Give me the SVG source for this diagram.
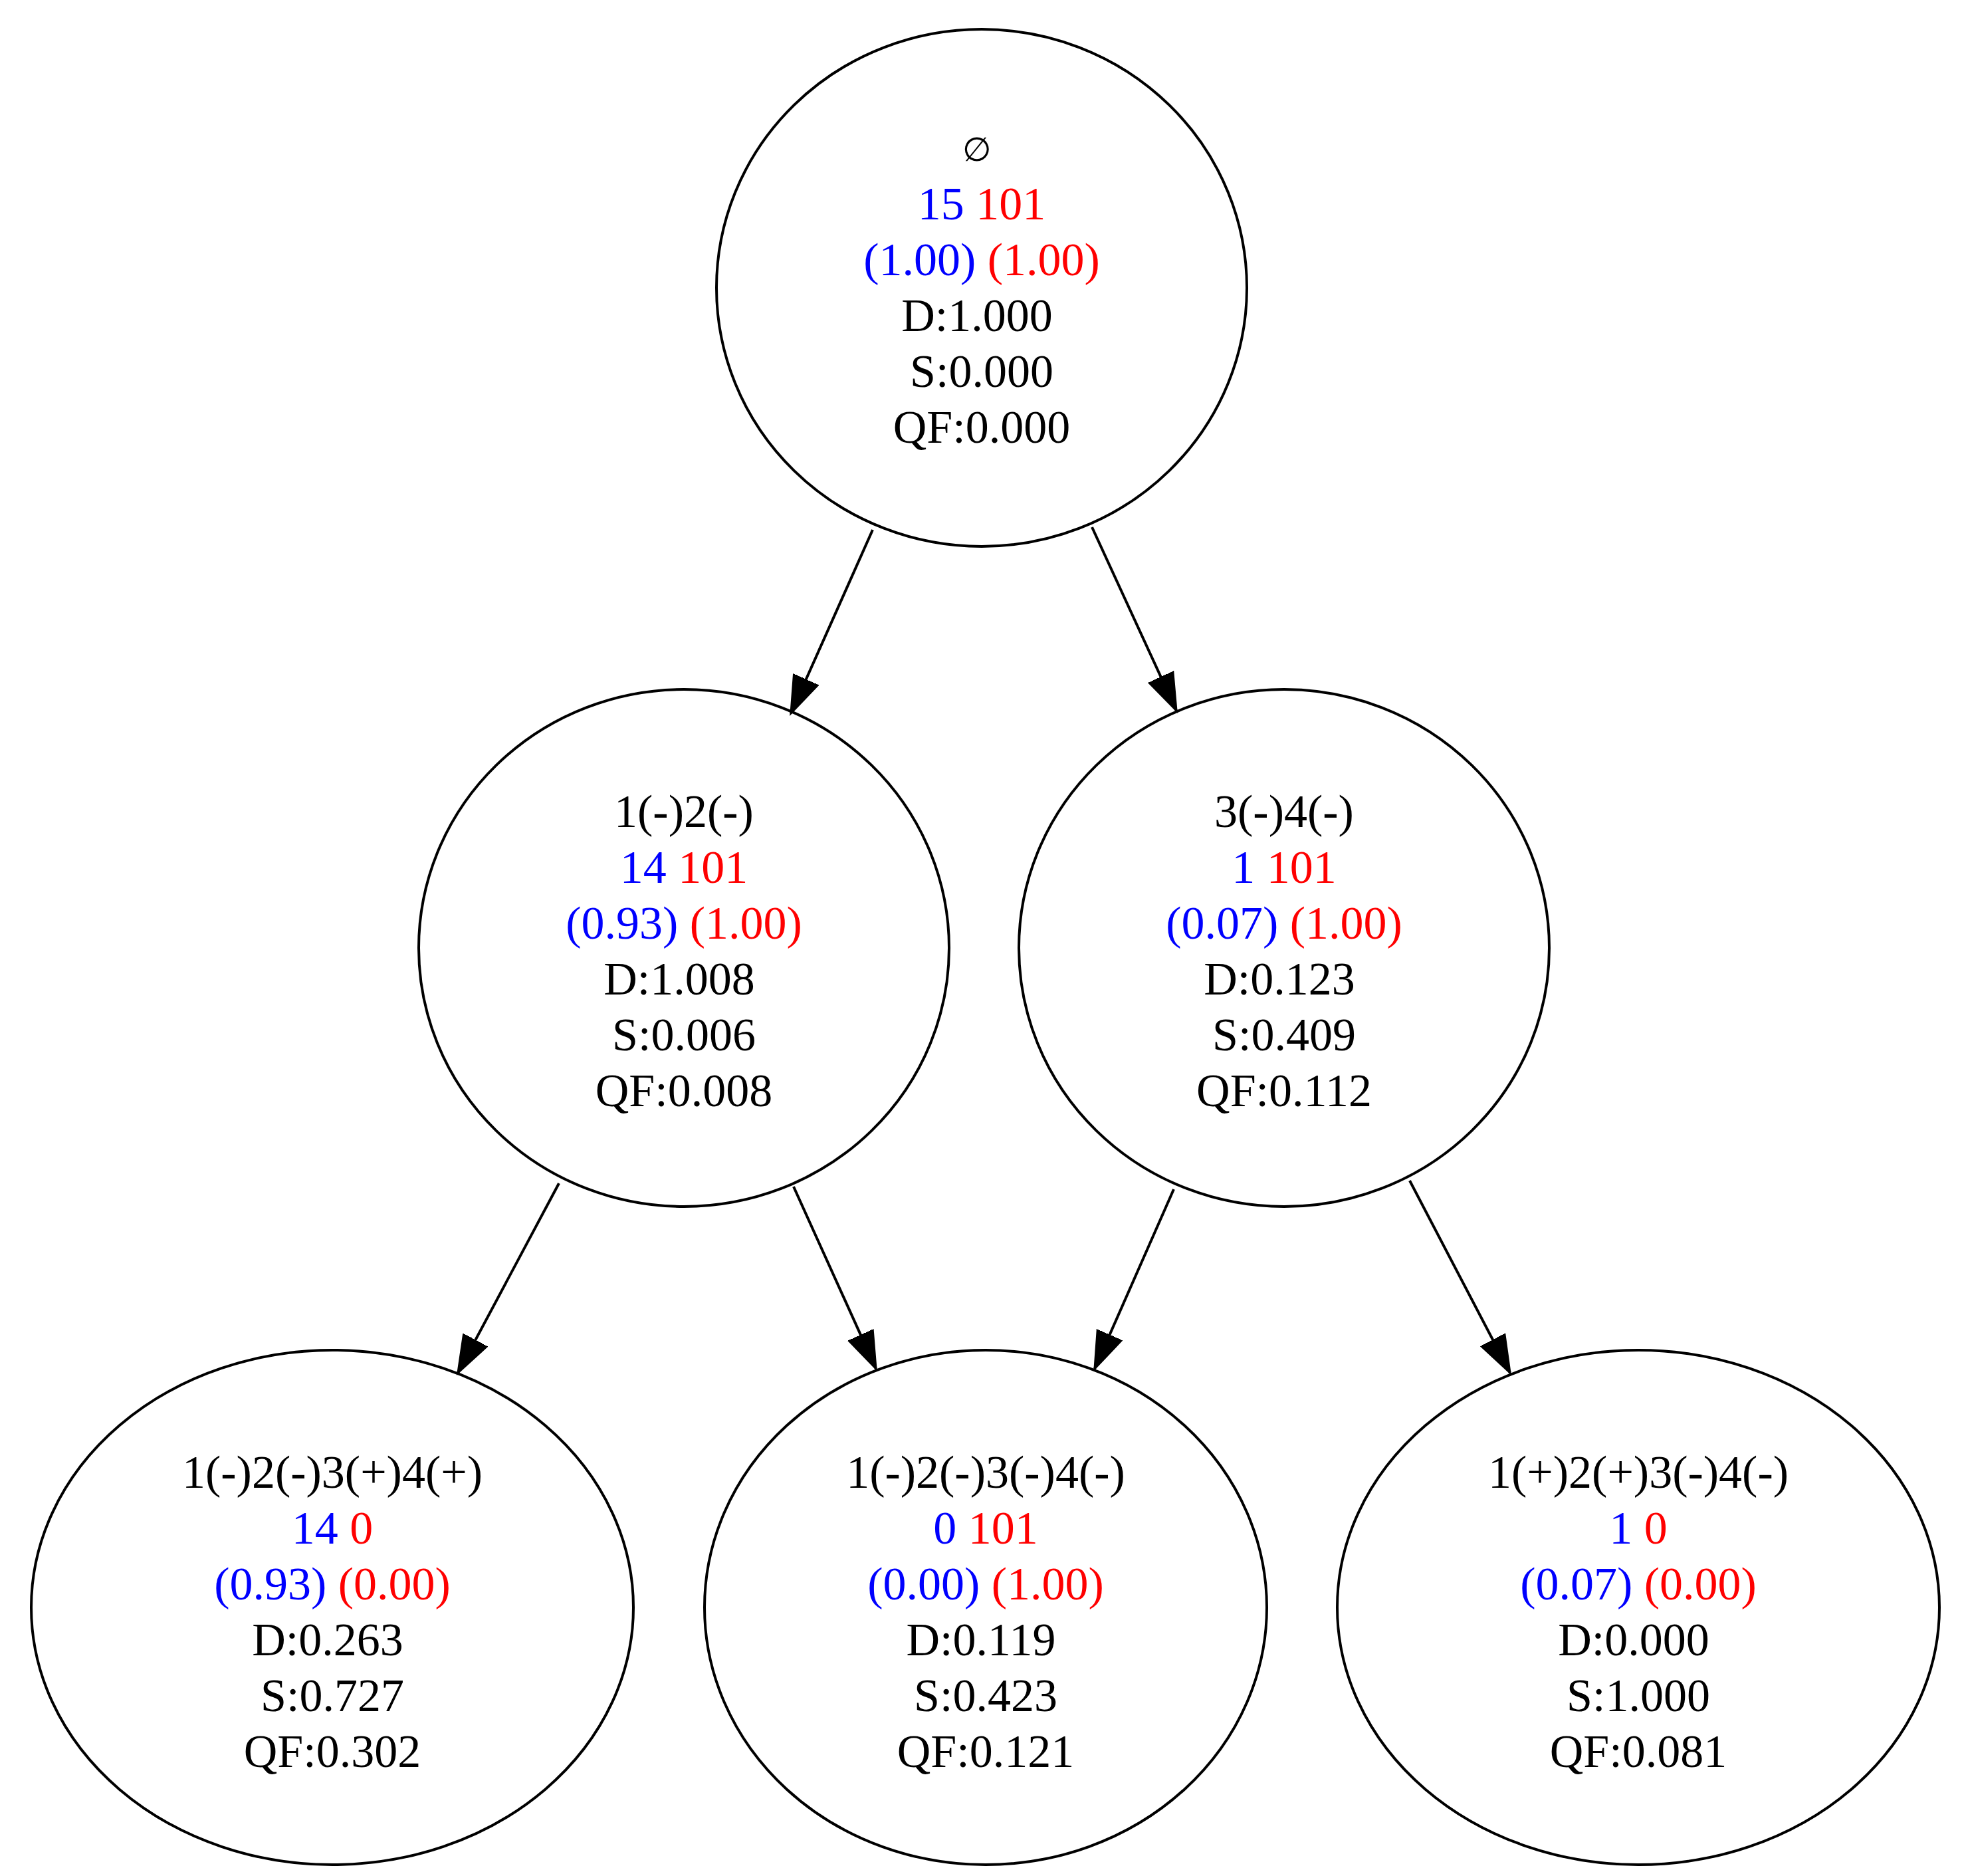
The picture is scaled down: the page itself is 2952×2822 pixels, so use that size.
<svg xmlns="http://www.w3.org/2000/svg" width="2952" height="2822" viewBox="0 0 2952 2822">
<style>
.n{fill:none;stroke:#000;stroke-width:4}
text{font-family:"Liberation Serif",serif;font-size:70px;text-anchor:middle;fill:#000}
.b{fill:#0000ff}.r{fill:#ff0000}
.e{stroke:#000;stroke-width:4;fill:none;marker-end:url(#a)}
</style>
<defs><marker id="a" markerUnits="userSpaceOnUse" markerWidth="60" markerHeight="50" refX="56" refY="20" orient="auto" viewBox="0 0 60 40"><path d="M0,0L56,20L0,40z" fill="#000" stroke="#000" stroke-width="3"/></marker></defs>
<rect width="2952" height="2822" fill="#fff"/>
<g id="edges">
<line class="e" x1="1313" y1="797" x2="1190" y2="1073"/>
<line class="e" x1="1643" y1="793" x2="1770" y2="1069"/>
<line class="e" x1="841" y1="1780" x2="689" y2="2065"/>
<line class="e" x1="1194" y1="1785" x2="1318" y2="2059"/>
<line class="e" x1="1766" y1="1789" x2="1647" y2="2059"/>
<line class="e" x1="2121" y1="1776" x2="2272" y2="2065"/>
</g>
<g id="root"><ellipse class="n" cx="1477" cy="433" rx="399" ry="389"/>
<text x="1470" y="242" style="font-size:50px">∅</text>
<text x="1477" y="330"><tspan class="b">15</tspan> <tspan class="r">101</tspan></text>
<text x="1477" y="414"><tspan class="b">(1.00)</tspan> <tspan class="r">(1.00)</tspan></text>
<text x="1470" y="498">D:1.000</text><text x="1477" y="582">S:0.000</text><text x="1477" y="666">QF:0.000</text></g>
<g id="n12"><ellipse class="n" cx="1029" cy="1426" rx="399" ry="389"/>
<text x="1029" y="1244">1(-)2(-)</text>
<text x="1029" y="1328"><tspan class="b">14</tspan> <tspan class="r">101</tspan></text>
<text x="1029" y="1412"><tspan class="b">(0.93)</tspan> <tspan class="r">(1.00)</tspan></text>
<text x="1022" y="1496">D:1.008</text><text x="1029" y="1580">S:0.006</text><text x="1029" y="1664">QF:0.008</text></g>
<g id="n34"><ellipse class="n" cx="1932" cy="1426" rx="399" ry="389"/>
<text x="1932" y="1244">3(-)4(-)</text>
<text x="1932" y="1328"><tspan class="b">1</tspan> <tspan class="r">101</tspan></text>
<text x="1932" y="1412"><tspan class="b">(0.07)</tspan> <tspan class="r">(1.00)</tspan></text>
<text x="1925" y="1496">D:0.123</text><text x="1932" y="1580">S:0.409</text><text x="1932" y="1664">QF:0.112</text></g>
<g id="bl"><ellipse class="n" cx="500" cy="2418" rx="453" ry="387"/>
<text x="500" y="2238">1(-)2(-)3(+)4(+)</text>
<text x="500" y="2322"><tspan class="b">14</tspan> <tspan class="r">0</tspan></text>
<text x="500" y="2406"><tspan class="b">(0.93)</tspan> <tspan class="r">(0.00)</tspan></text>
<text x="493" y="2490">D:0.263</text><text x="500" y="2574">S:0.727</text><text x="500" y="2658">QF:0.302</text></g>
<g id="bm"><ellipse class="n" cx="1483" cy="2418" rx="423" ry="387"/>
<text x="1483" y="2238">1(-)2(-)3(-)4(-)</text>
<text x="1483" y="2322"><tspan class="b">0</tspan> <tspan class="r">101</tspan></text>
<text x="1483" y="2406"><tspan class="b">(0.00)</tspan> <tspan class="r">(1.00)</tspan></text>
<text x="1476" y="2490">D:0.119</text><text x="1483" y="2574">S:0.423</text><text x="1483" y="2658">QF:0.121</text></g>
<g id="br"><ellipse class="n" cx="2465" cy="2418" rx="453" ry="387"/>
<text x="2465" y="2238">1(+)2(+)3(-)4(-)</text>
<text x="2465" y="2322"><tspan class="b">1</tspan> <tspan class="r">0</tspan></text>
<text x="2465" y="2406"><tspan class="b">(0.07)</tspan> <tspan class="r">(0.00)</tspan></text>
<text x="2458" y="2490">D:0.000</text><text x="2465" y="2574">S:1.000</text><text x="2465" y="2658">QF:0.081</text></g>
</svg>
